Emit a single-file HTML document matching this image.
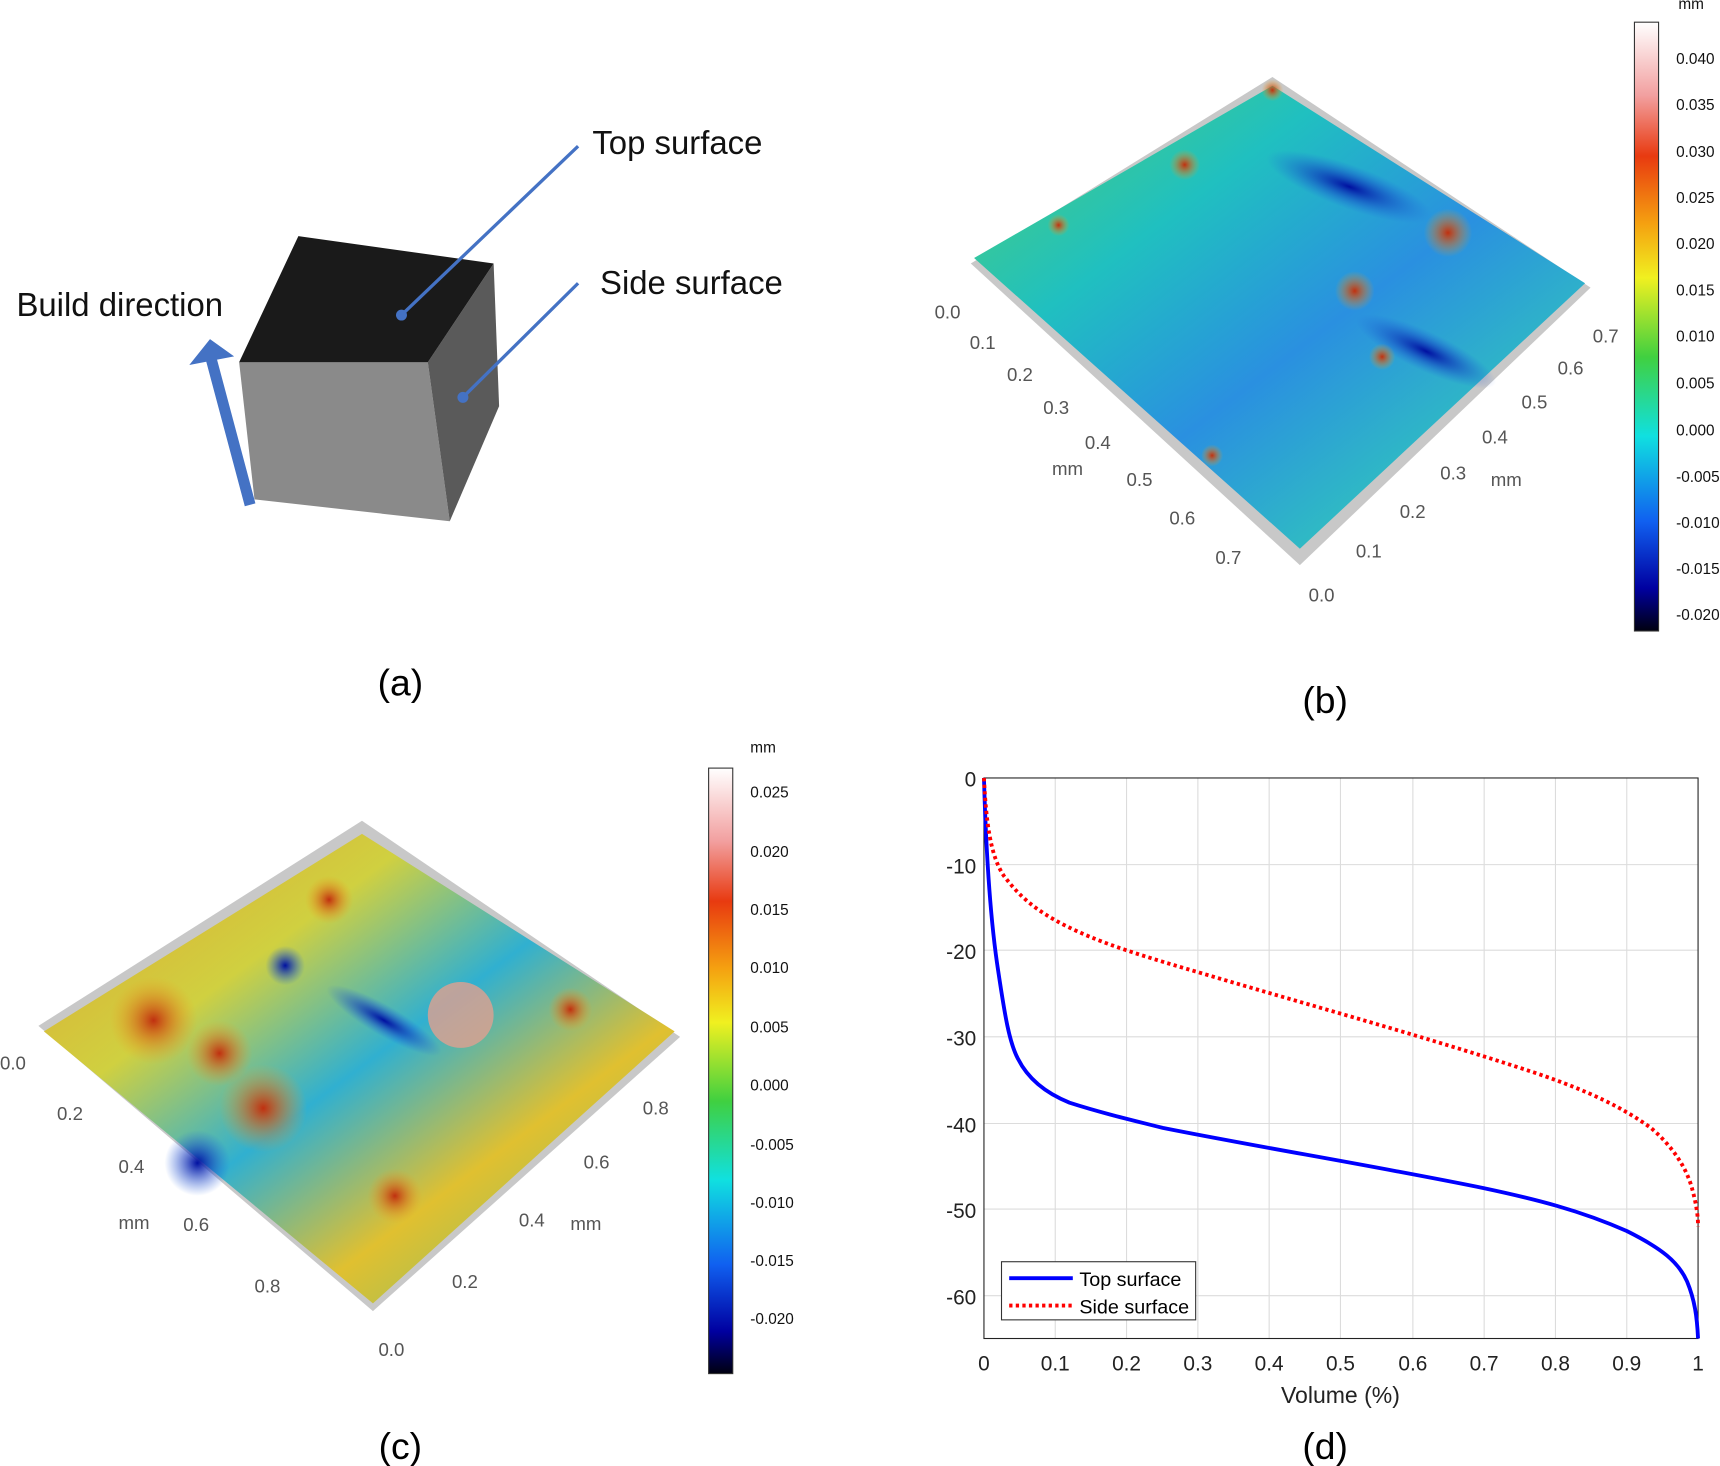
<!DOCTYPE html>
<html><head><meta charset="utf-8"><style>
html,body{margin:0;padding:0;background:#fff;}
svg{display:block;font-family:"Liberation Sans",sans-serif;}
</style></head><body>
<svg width="1720" height="1466" viewBox="0 0 1568 1336" xmlns="http://www.w3.org/2000/svg">
<defs>
<linearGradient id="cb" x1="0" y1="0" x2="0" y2="1">
<stop offset="0" stop-color="#ffffff"/><stop offset="0.12" stop-color="#f2a0a0"/><stop offset="0.22" stop-color="#e83a10"/><stop offset="0.33" stop-color="#f5a010"/><stop offset="0.42" stop-color="#f0f020"/><stop offset="0.55" stop-color="#40d040"/><stop offset="0.68" stop-color="#10e0e0"/><stop offset="0.82" stop-color="#1060f0"/><stop offset="0.93" stop-color="#0000a0"/><stop offset="1" stop-color="#000010"/>
</linearGradient>
<linearGradient id="bs" x1="0" y1="0" x2="1" y2="1">
<stop offset="0" stop-color="#50d070"/><stop offset="0.3" stop-color="#20c0c0"/><stop offset="0.55" stop-color="#2a90e0"/><stop offset="0.8" stop-color="#30c0c0"/><stop offset="1" stop-color="#70d050"/>
</linearGradient>
<linearGradient id="cs" x1="0" y1="0" x2="1" y2="1">
<stop offset="0" stop-color="#e0a030"/><stop offset="0.3" stop-color="#d0d040"/><stop offset="0.5" stop-color="#30b0d0"/><stop offset="0.7" stop-color="#e0c030"/><stop offset="1" stop-color="#60c080"/>
</linearGradient>
<radialGradient id="blob"><stop offset="0" stop-color="#c03010"/><stop offset="1" stop-color="#f0a020" stop-opacity="0"/></radialGradient>
<radialGradient id="blue"><stop offset="0" stop-color="#0010a0"/><stop offset="1" stop-color="#2060e0" stop-opacity="0"/></radialGradient>
</defs>

<!-- (a) -->
<polygon points="218,330 390,330 410,475 232,455" fill="#8a8a8a"/>
<polygon points="450,240 455,370 410,475 390,330" fill="#5a5a5a"/>
<polygon points="272,215 450,240 390,330 218,330" fill="#1a1a1a"/>
<line x1="228" y1="460" x2="192" y2="325" stroke="#4472c4" stroke-width="10"/>
<polygon points="180,328 192,313 206,323" fill="#4472c4" stroke="#4472c4" stroke-width="6"/>
<line x1="527" y1="133" x2="366" y2="287" stroke="#4472c4" stroke-width="3"/>
<circle cx="366" cy="287" r="5" fill="#4472c4"/>
<line x1="527" y1="258" x2="422" y2="362" stroke="#4472c4" stroke-width="3"/>
<circle cx="422" cy="362" r="5" fill="#4472c4"/>
<text x="540" y="140" font-size="30" fill="#111">Top surface</text>
<text x="547" y="268" font-size="30" fill="#111">Side surface</text>
<text x="15" y="288" font-size="30" fill="#111">Build direction</text>
<text x="365" y="634" font-size="34" text-anchor="middle">(a)</text>

<!-- (b) -->
<polygon points="885,240 1160,70 1450,262 1185,515" fill="#c8c8c8"/>
<polygon points="888,235 1160,78 1445,258 1185,500" fill="url(#bs)"/>
<ellipse cx="1230" cy="170" rx="80" ry="20" fill="url(#blue)" transform="rotate(20 1230 170)"/>
<ellipse cx="1300" cy="320" rx="70" ry="18" fill="url(#blue)" transform="rotate(25 1300 320)"/>
<circle cx="1235" cy="265" r="18" fill="url(#blob)"/>
<circle cx="1320" cy="212" r="22" fill="url(#blob)"/>
<circle cx="1080" cy="150" r="14" fill="url(#blob)"/>
<circle cx="1160" cy="82" r="10" fill="url(#blob)"/>
<circle cx="1105" cy="415" r="10" fill="url(#blob)"/>
<circle cx="1260" cy="325" r="12" fill="url(#blob)"/>
<circle cx="965" cy="205" r="10" fill="url(#blob)"/>
<g font-size="17" fill="#555">
<text x="852" y="290">0.0</text><text x="884" y="318">0.1</text><text x="918" y="347">0.2</text><text x="951" y="377">0.3</text><text x="989" y="409">0.4</text><text x="959" y="433">mm</text><text x="1027" y="443">0.5</text><text x="1066" y="478">0.6</text><text x="1108" y="514">0.7</text>
<text x="1193" y="548">0.0</text><text x="1236" y="508">0.1</text><text x="1276" y="472">0.2</text><text x="1313" y="437">0.3</text><text x="1359" y="443">mm</text><text x="1351" y="404">0.4</text><text x="1387" y="372">0.5</text><text x="1420" y="341">0.6</text><text x="1452" y="312">0.7</text>
</g>
<rect x="1490" y="20" width="22" height="555" fill="url(#cb)" stroke="#333"/>
<g font-size="14" fill="#111">
<text x="1530" y="8">mm</text>
<text x="1528" y="58">0.040</text><text x="1528" y="100">0.035</text><text x="1528" y="143">0.030</text><text x="1528" y="185">0.025</text><text x="1528" y="227">0.020</text><text x="1528" y="269">0.015</text><text x="1528" y="311">0.010</text><text x="1528" y="354">0.005</text><text x="1528" y="397">0.000</text><text x="1528" y="439">-0.005</text><text x="1528" y="481">-0.010</text><text x="1528" y="523">-0.015</text><text x="1528" y="565">-0.020</text>
</g>
<text x="1208" y="650" font-size="34" text-anchor="middle">(b)</text>

<!-- (c) -->
<polygon points="35,935 330,748 620,945 340,1195" fill="#c8c8c8"/>
<polygon points="40,940 330,760 615,940 340,1188" fill="url(#cs)"/>
<circle cx="420" cy="925" r="30" fill="#e0a090" opacity="0.8"/>
<circle cx="140" cy="930" r="40" fill="url(#blob)"/>
<circle cx="240" cy="1010" r="40" fill="url(#blob)"/>
<circle cx="200" cy="960" r="30" fill="url(#blob)"/>
<circle cx="360" cy="1090" r="25" fill="url(#blob)"/>
<circle cx="300" cy="820" r="22" fill="url(#blob)"/>
<circle cx="520" cy="920" r="20" fill="url(#blob)"/>
<ellipse cx="350" cy="930" rx="60" ry="14" fill="url(#blue)" transform="rotate(30 350 930)"/>
<circle cx="180" cy="1060" r="30" fill="url(#blue)"/>
<circle cx="260" cy="880" r="18" fill="url(#blue)"/>
<g font-size="17" fill="#555">
<text x="0" y="975">0.0</text><text x="52" y="1021">0.2</text><text x="108" y="1069">0.4</text><text x="108" y="1120">mm</text><text x="167" y="1122">0.6</text><text x="232" y="1178">0.8</text>
<text x="345" y="1236">0.0</text><text x="412" y="1174">0.2</text><text x="473" y="1118">0.4</text><text x="520" y="1121">mm</text><text x="532" y="1065">0.6</text><text x="586" y="1016">0.8</text>
</g>
<rect x="646" y="700" width="22" height="552" fill="url(#cb)" stroke="#333"/>
<g font-size="14" fill="#111">
<text x="684" y="686">mm</text>
<text x="684" y="727">0.025</text><text x="684" y="781">0.020</text><text x="684" y="834">0.015</text><text x="684" y="887">0.010</text><text x="684" y="941">0.005</text><text x="684" y="994">0.000</text><text x="684" y="1048">-0.005</text><text x="684" y="1101">-0.010</text><text x="684" y="1154">-0.015</text><text x="684" y="1207">-0.020</text>
</g>
<text x="365" y="1330" font-size="34" text-anchor="middle">(c)</text>

<!-- (d) -->
<g stroke="#dcdcdc" stroke-width="1">
<line x1="962" y1="709" x2="962" y2="1220"/><line x1="1027" y1="709" x2="1027" y2="1220"/><line x1="1092" y1="709" x2="1092" y2="1220"/><line x1="1157" y1="709" x2="1157" y2="1220"/><line x1="1222" y1="709" x2="1222" y2="1220"/><line x1="1288" y1="709" x2="1288" y2="1220"/><line x1="1353" y1="709" x2="1353" y2="1220"/><line x1="1418" y1="709" x2="1418" y2="1220"/><line x1="1483" y1="709" x2="1483" y2="1220"/>
<line x1="897" y1="788" x2="1548" y2="788"/><line x1="897" y1="866" x2="1548" y2="866"/><line x1="897" y1="945" x2="1548" y2="945"/><line x1="897" y1="1024" x2="1548" y2="1024"/><line x1="897" y1="1102" x2="1548" y2="1102"/><line x1="897" y1="1181" x2="1548" y2="1181"/>
</g>
<rect x="897" y="709" width="651" height="511" fill="none" stroke="#222" stroke-width="1"/>
<path fill="none" stroke="#0000ff" stroke-width="3.5" d="M897,709 C899,780 903,840 910,885 C916,925 920,950 928,965 C938,985 955,997 975,1005 C1000,1013 1020,1018 1060,1028 C1150,1046 1250,1062 1353,1083 C1400,1093 1440,1103 1483,1122 C1515,1138 1530,1150 1538,1168 C1545,1185 1547,1200 1548,1220"/>
<path fill="none" stroke="#ff0000" stroke-width="3.5" stroke-dasharray="3,3" d="M897,709 C899,750 903,780 915,798 C930,818 945,830 970,843 C1000,858 1030,868 1092,886 C1200,918 1300,945 1400,978 C1450,995 1480,1010 1505,1028 C1525,1045 1538,1065 1543,1085 C1547,1100 1548,1110 1548,1118"/>
<g font-size="19" fill="#222">
<text x="890" y="717" text-anchor="end">0</text><text x="890" y="796" text-anchor="end">-10</text><text x="890" y="874" text-anchor="end">-20</text><text x="890" y="953" text-anchor="end">-30</text><text x="890" y="1032" text-anchor="end">-40</text><text x="890" y="1110" text-anchor="end">-50</text><text x="890" y="1189" text-anchor="end">-60</text>
<g text-anchor="middle"><text x="897" y="1249">0</text><text x="962" y="1249">0.1</text><text x="1027" y="1249">0.2</text><text x="1092" y="1249">0.3</text><text x="1157" y="1249">0.4</text><text x="1222" y="1249">0.5</text><text x="1288" y="1249">0.6</text><text x="1353" y="1249">0.7</text><text x="1418" y="1249">0.8</text><text x="1483" y="1249">0.9</text><text x="1548" y="1249">1</text></g>
<text x="1222" y="1279" text-anchor="middle" font-size="21">Volume (%)</text>
</g>
<rect x="913" y="1150" width="177" height="53" fill="#fff" stroke="#333"/>
<line x1="920" y1="1165" x2="978" y2="1165" stroke="#0000ff" stroke-width="3.5"/>
<line x1="920" y1="1190" x2="978" y2="1190" stroke="#ff0000" stroke-width="3.5" stroke-dasharray="3,3"/>
<text x="984" y="1172" font-size="18">Top surface</text>
<text x="984" y="1197" font-size="18">Side surface</text>
<text x="1208" y="1330" font-size="34" text-anchor="middle">(d)</text>
</svg>
</body></html>
